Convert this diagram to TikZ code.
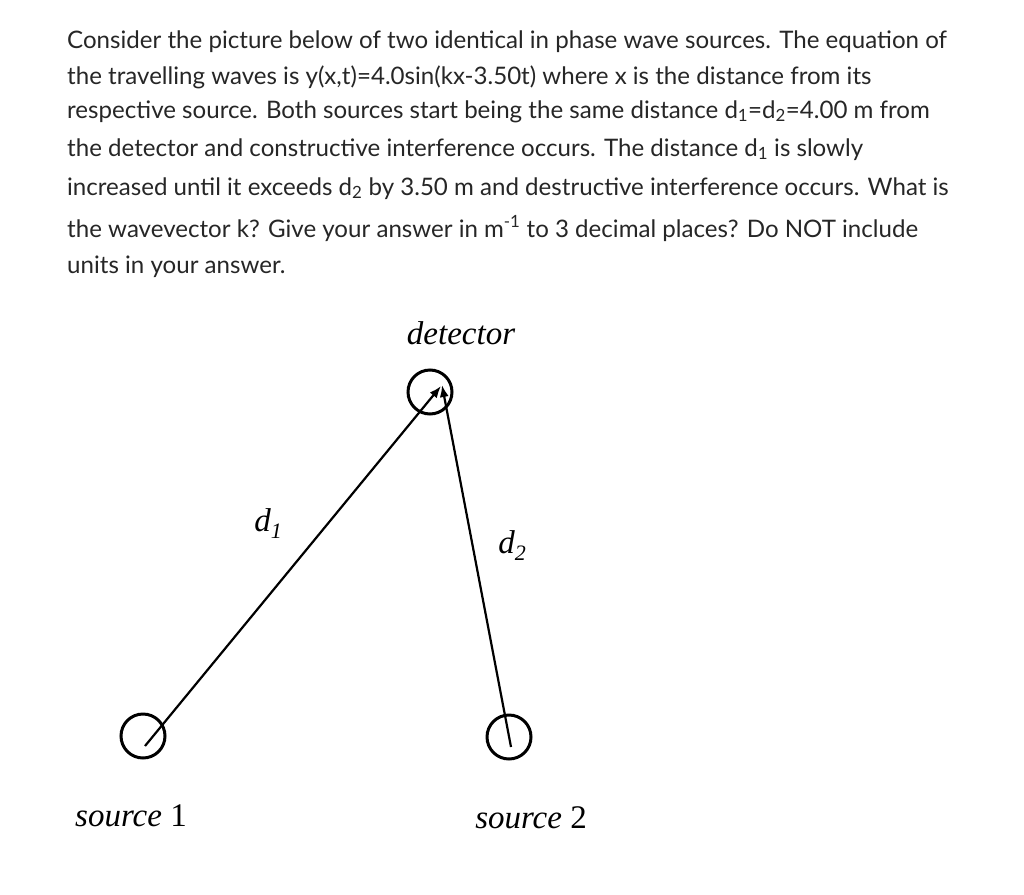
\documentclass[tikz,border=0pt]{standalone}
\usepackage{fontspec}
\setmainfont{Lato}
\newfontfamily\figfont{Liberation Serif}
\usetikzlibrary{arrows.meta}
\begin{document}
\begin{tikzpicture}[x=1pt,y=-1pt,
  txt/.style={anchor=base west,inner sep=0pt,font=\fontsize{24.1}{28}\selectfont,text=black!85},
  lab/.style={inner sep=0pt,font=\figfont\itshape\fontsize{33}{36}\selectfont},
  ring/.style={circle,draw,line width=3pt,minimum size=44pt,inner sep=0pt},
  ray/.style={line width=2.2pt,-{Latex[length=12pt,width=9pt]}}]
\useasboundingbox (0,0) rectangle (1024,894);
\node[txt] (l1) at (67,48) {Consider the picture below of two identical in phase wave sources. The equation of};
\node[txt] (l2) at (67,84) {the travelling waves is y(x,t)=4.0sin(kx-3.50t) where x is the distance from its};
\node[txt] (l3) at (67,118) {respective source. Both sources start being the same distance d\textsubscript{1}=d\textsubscript{2}=4.00 m from};
\node[txt] (l4) at (67,156) {the detector and constructive interference occurs. The distance d\textsubscript{1} is slowly};
\node[txt] (l5) at (67,195) {increased until it exceeds d\textsubscript{2} by 3.50 m and destructive interference occurs. What is};
\node[txt] (l6) at (67,237) {the wavevector k? Give your answer in m\textsuperscript{-1} to 3 decimal places? Do NOT include};
\node[txt] (l7) at (67,273) {units in your answer.};
\node[ring] (det) at (430,392) {};
\node[ring] (s1) at (143,736) {};
\node[ring] (s2) at (509,737) {};
\coordinate (a1) at (145,746);
\coordinate (a2) at (511,747);
\coordinate (t1) at (441,386);
\coordinate (t2) at (442,385);
\draw[ray] (a1) -- (t1);
\draw[ray] (a2) -- (t2);
\node[lab] (ld) at (461,333) {detector};
\node[lab] (d1) at (268,524) {d\raisebox{-7pt}{\fontsize{22}{24}\selectfont 1}};
\node[lab] (d2) at (512,546) {d\raisebox{-7pt}{\fontsize{22}{24}\selectfont 2}};
\node[lab] (ls1) at (131,816) {source \textup{1}};
\node[lab] (ls2) at (531,818) {source \textup{2}};
\end{tikzpicture}
\end{document}
